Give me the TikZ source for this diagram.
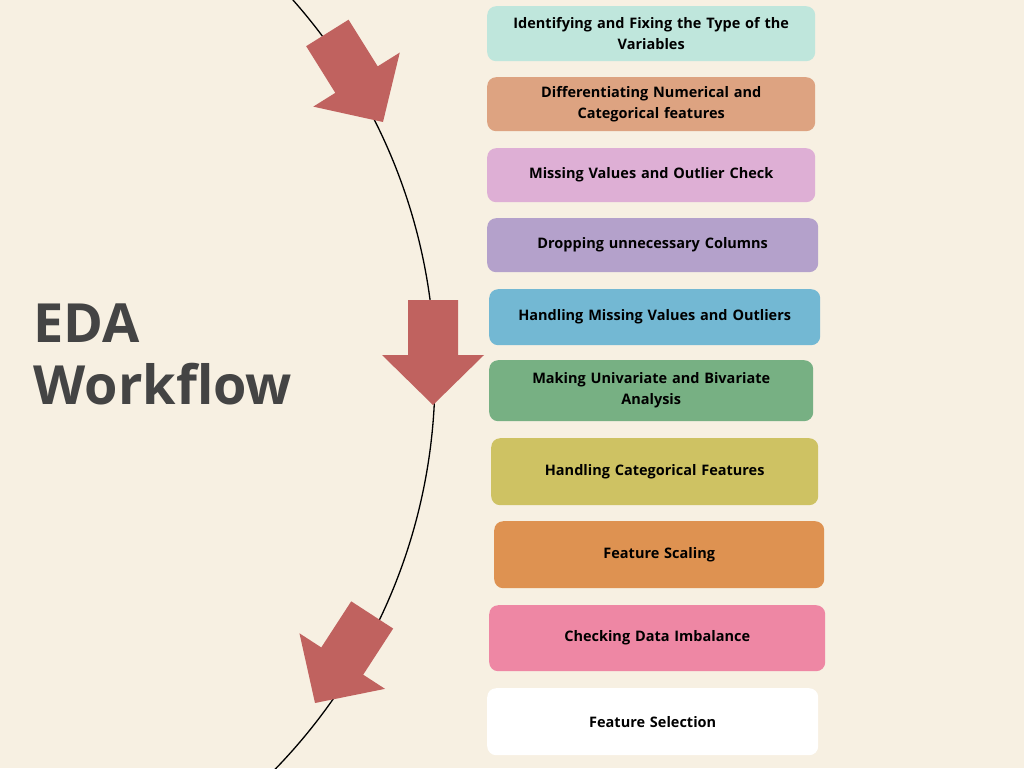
\documentclass[tikz,border=0pt]{standalone}
\usepackage{fontspec}
\setmainfont{Open Sans}
\usetikzlibrary{positioning}
\definecolor{bgcol}{HTML}{F7F0E2}
\definecolor{arrcol}{HTML}{C0625F}
\definecolor{titlecol}{HTML}{444444}
\definecolor{cola}{HTML}{BFE6DC}
\definecolor{colb}{HTML}{DDA381}
\definecolor{colc}{HTML}{DEAFD5}
\definecolor{cold}{HTML}{B4A1CB}
\definecolor{cole}{HTML}{73B8D3}
\definecolor{colf}{HTML}{77B083}
\definecolor{colg}{HTML}{CEC263}
\definecolor{colh}{HTML}{DE9251}
\definecolor{coli}{HTML}{EE87A4}
\tikzset{
  stepbox/.style={rectangle, rounded corners=9pt, anchor=north west, align=center,
    font=\fontsize{14.5}{21}\selectfont\bfseries, text width=310pt},
  bigarrow/.style={fill=arrcol, draw=none}
}
\newcommand{\blockarrow}[3]{% x, y of tip, angle
  \begin{scope}[shift={(#1,#2)}, rotate=#3]
    \fill[bigarrow] (0,0) -- (-50,51) -- (-50,25) -- (-105,25) -- (-105,-25) -- (-50,-25) -- (-50,-51) -- cycle;
  \end{scope}}
\begin{document}
\begin{tikzpicture}[x=1pt,y=-1pt]
  \fill[bgcol] (0,0) rectangle (1024,768);
  \useasboundingbox (0,0) rectangle (1024,768);
  % arc
  \begin{scope}
    \clip (0,0) rectangle (1024,768);
    \draw[line width=1.3pt] (-131,375) circle (566);
  \end{scope}
  % arrows
  \blockarrow{383}{122}{-58}
  \blockarrow{433}{405}{-90}
  \blockarrow{315}{703}{-123}
  % title
  \node[anchor=west, text=titlecol, align=left, font=\fontsize{54}{62}\selectfont\bfseries] (title) at (30,354) {EDA\\Workflow};
  % steps
  \node[stepbox, fill=cola, minimum width=328pt, minimum height=55pt] (s1) at (487,6) {Identifying and Fixing the Type of the\\Variables};
  \node[stepbox, fill=colb, minimum width=328pt, minimum height=54pt] (s2) at (487,77) {Differentiating Numerical and\\Categorical features};
  \node[stepbox, fill=colc, minimum width=328pt, minimum height=54pt] (s3) at (487,148) {Missing Values and Outlier Check};
  \node[stepbox, fill=cold, minimum width=331pt, minimum height=54pt] (s4) at (487,218) {Dropping unnecessary Columns};
  \node[stepbox, fill=cole, minimum width=331pt, minimum height=56pt] (s5) at (489,289) {Handling Missing Values and Outliers};
  \node[stepbox, fill=colf, minimum width=324pt, minimum height=61pt] (s6) at (489,360) {Making Univariate and Bivariate\\Analysis};
  \node[stepbox, fill=colg, minimum width=327pt, minimum height=67pt] (s7) at (491,438) {Handling Categorical Features};
  \node[stepbox, fill=colh, minimum width=330pt, minimum height=67pt] (s8) at (494,521) {Feature Scaling};
  \node[stepbox, fill=coli, minimum width=336pt, minimum height=66pt] (s9) at (489,605) {Checking Data Imbalance};
  \node[stepbox, fill=white, minimum width=331pt, minimum height=67pt] (s10) at (487,688) {Feature Selection};
\end{tikzpicture}
\end{document}
